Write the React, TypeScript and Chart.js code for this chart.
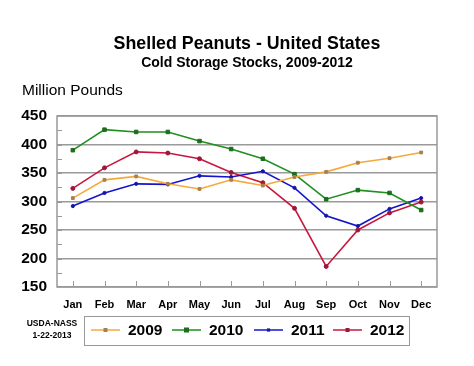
import React, { useEffect, useRef } from "react";
import { Chart, registerables } from "chart.js";

Chart.register(...registerables);

const months = ["Jan", "Feb", "Mar", "Apr", "May", "Jun", "Jul", "Aug", "Sep", "Oct", "Nov", "Dec"];
const s2009 = [306, 338, 344, 331, 322, 338, 328, 343, 352, 368, 376, 386];
const s2010 = [390, 426, 422, 422, 406, 392, 375, 348, 304, 320, 315, 285];
const s2011 = [292, 315, 331, 330, 345, 343, 353, 324, 275, 257, 287, 306];
const s2012 = [323, 359, 387, 385, 375, 351, 333, 288, 186, 250, 280, 299];
const yTicks = [150, 200, 250, 300, 350, 400, 450];

const FONT = "'Liberation Sans', Arial, sans-serif";

const decorPlugin = {
  id: "decor",
  beforeDatasetsDraw(chart: any) {
    const { ctx, chartArea: a, scales } = chart;
    const y = scales.y;
    const x = scales.x;
    ctx.save();
    ctx.strokeStyle = "#9a9a9a";
    ctx.lineWidth = 1;
    for (let v = 175; v < 450; v += 25) {
      const py = Math.round(y.getPixelForValue(v)) + 0.5;
      ctx.beginPath();
      ctx.moveTo(a.left, py);
      ctx.lineTo(a.left + 5, py);
      ctx.stroke();
    }
    for (let i = 0; i < months.length; i++) {
      const px = Math.round(x.getPixelForValue(i)) + 0.5;
      ctx.beginPath();
      ctx.moveTo(px, a.bottom);
      ctx.lineTo(px, a.bottom - 6);
      ctx.stroke();
    }
    ctx.lineWidth = 1.5;
    ctx.strokeStyle = "#999999";
    ctx.strokeRect(a.left, a.top, a.right - a.left, a.bottom - a.top);
    ctx.restore();
  },
  afterDraw(chart: any) {
    const { ctx } = chart;
    ctx.save();
    ctx.fillStyle = "#000";
    ctx.textAlign = "center";
    ctx.textBaseline = "middle";
    ctx.font = `bold 17.8px ${FONT}`;
    ctx.fillText("Shelled Peanuts - United States", 247, 44);
    ctx.font = `bold 14px ${FONT}`;
    ctx.fillText("Cold Storage Stocks, 2009-2012", 247, 63);
    ctx.textAlign = "left";
    ctx.font = `15.5px ${FONT}`;
    ctx.fillText("Million Pounds", 22, 91);
    ctx.textAlign = "center";
    ctx.font = `bold 8.5px ${FONT}`;
    ctx.fillText("USDA-NASS", 52, 324);
    ctx.fillText("1-22-2013", 52, 336);
    ctx.strokeStyle = "#999999";
    ctx.lineWidth = 1;
    ctx.strokeRect(84.5, 316.5, 325, 29);
    const starts = [91, 172, 254, 333];
    chart.data.datasets.forEach((ds: any, i: number) => {
      const lx = starts[i];
      const ly = 330;
      ctx.strokeStyle = ds.borderColor;
      ctx.lineWidth = 1.5;
      ctx.beginPath();
      ctx.moveTo(lx, ly);
      ctx.lineTo(lx + 29, ly);
      ctx.stroke();
      ctx.fillStyle = ds.pointBackgroundColor;
      const r = ds.pointRadius;
      ctx.fillRect(lx + 14.5 - r, ly - r, r * 2, r * 2);
      ctx.fillStyle = "#000";
      ctx.textAlign = "left";
      ctx.font = `bold 15.5px ${FONT}`;
      ctx.fillText(ds.label, lx + 37, ly + 1);
    });
    ctx.restore();
  },
};

export default function App() {
  const ref = useRef<HTMLCanvasElement>(null);
  useEffect(() => {
    document.body.style.margin = "0";
    const mk = (label: string, data: number[], color: string, pcolor: string, style: string, r: number) => ({
      label,
      data,
      borderColor: color,
      backgroundColor: color,
      pointBackgroundColor: pcolor,
      pointBorderColor: pcolor,
      pointStyle: style,
      pointRadius: r,
      pointBorderWidth: 1,
      borderWidth: 1.6,
      tension: 0,
    });
    const chart = new Chart(ref.current!, {
      type: "line",
      data: {
        labels: months,
        datasets: [
          mk("2009", s2009, "#F5A93A", "#A88050", "rect", 2),
          mk("2010", s2010, "#1F8F1F", "#1B6E1B", "rect", 2.5),
          mk("2011", s2011, "#1414CC", "#1414AA", "circle", 1.6),
          mk("2012", s2012, "#C8163F", "#9A1838", "circle", 2),
        ],
      },
      options: {
        animation: false,
        responsive: false,
        maintainAspectRatio: false,
        layout: { padding: { top: 116, right: 37, bottom: 0, left: 0 } },
        plugins: { legend: { display: false }, tooltip: { enabled: false }, title: { display: false } },
        scales: {
          x: {
            offset: true,
            grid: { display: false, drawTicks: false },
            border: { display: false },
            ticks: { color: "#000", font: { family: FONT, size: 11, weight: "bold" }, padding: 11 },
            afterFit: (s: any) => { s.height = 79; },
          },
          y: {
            min: 150,
            max: 450,
            afterBuildTicks: (s: any) => { s.ticks = yTicks.map((v) => ({ value: v })); },
            grid: { color: "#9a9a9a", lineWidth: 1.5, drawTicks: false },
            border: { display: false },
            ticks: { color: "#000", font: { family: FONT, size: 15.5, weight: "bold" }, padding: 10 },
            afterFit: (s: any) => { s.width = 57; },
          },
        },
      },
      plugins: [decorPlugin],
    });
    return () => chart.destroy();
  }, []);
  return <canvas ref={ref} width={474} height={366} style={{ display: "block" }} />;
}
